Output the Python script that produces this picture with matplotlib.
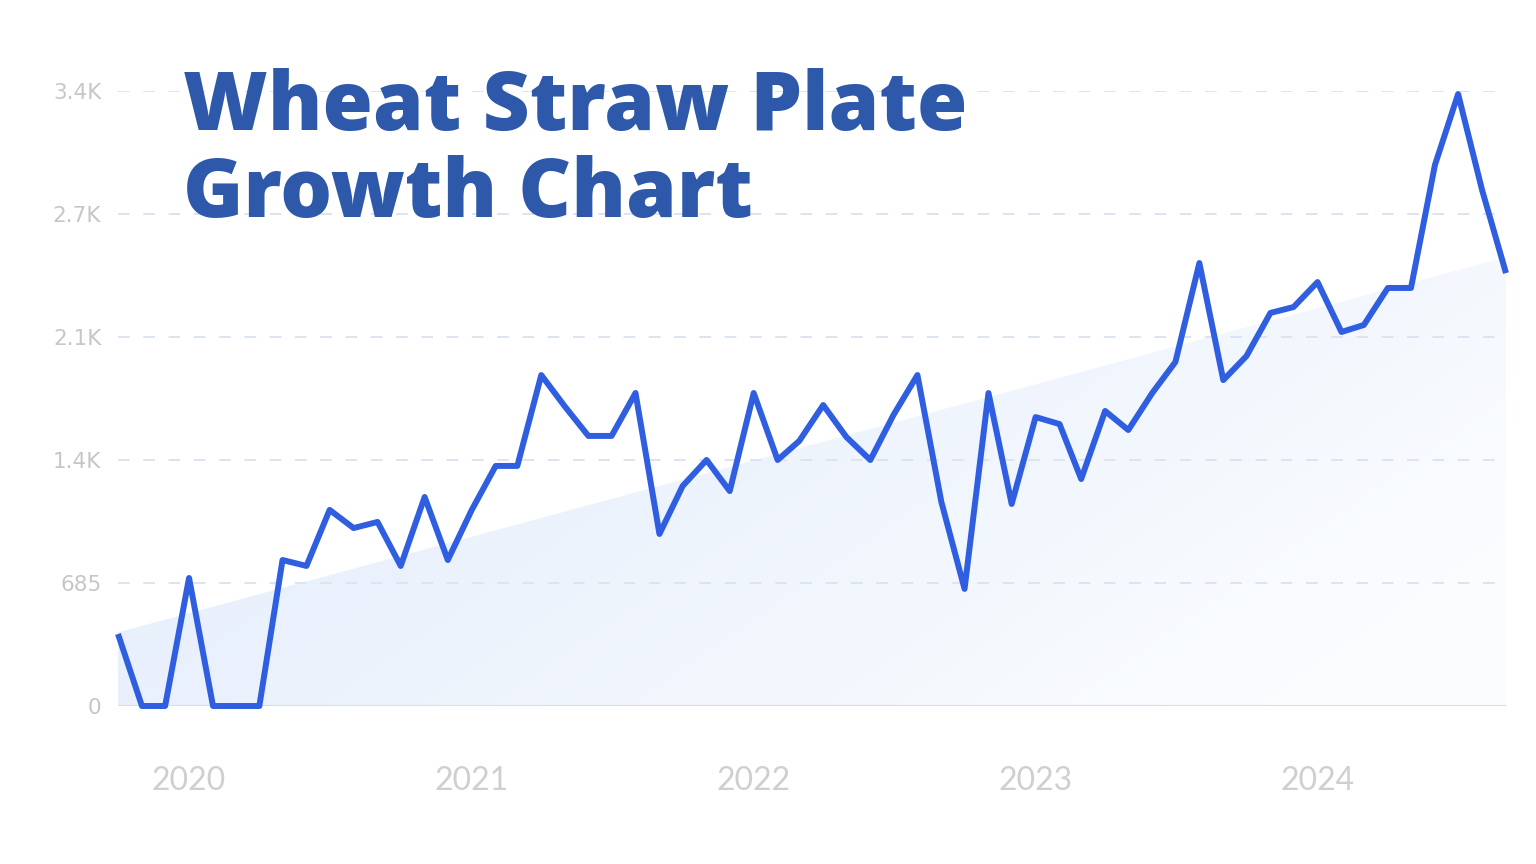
import numpy as np
import pandas as pd
import matplotlib
matplotlib.use("Agg")
import matplotlib.pyplot as plt
from matplotlib.patches import Polygon

# ---- data ----
start_month = "2019-10-01"
values = [401, 0, 0, 713, 0, 0, 0, 813, 780, 1092,
          991, 1025, 780, 1164, 813, 1092, 1337, 1337, 1843, 1671,
          1504, 1504, 1743, 958, 1225, 1370, 1197, 1743, 1370, 1476,
          1676, 1498, 1370, 1621, 1843, 1136, 652, 1743, 1125, 1609,
          1570, 1264, 1643, 1537, 1743, 1916, 2467, 1815, 1949, 2189,
          2222, 2361, 2083, 2122, 2328, 2328, 3013, 3408, 2874, 2411]
trend_ends = [410, 2500]
y_ticks = [0, 685, 1370, 2055, 2740, 3425]
y_tick_labels = ["0", "685", "1.4K", "2.1K", "2.7K", "3.4K"]
x_tick_years = ["2020", "2021", "2022", "2023", "2024"]
title_lines = ["Wheat Straw Plate", "Growth Chart"]

dates = pd.date_range(start_month, periods=len(values), freq="MS")
xnum = matplotlib.dates.date2num(dates)

W, H = 1536, 864
fig = plt.figure(figsize=(W / 100, H / 100), dpi=100)
ax_l, ax_r, ax_b, ax_t = 118 / W, 1506 / W, 1 - 706 / H, 1 - 91 / H
ax = fig.add_axes([ax_l, ax_b, ax_r - ax_l, ax_t - ax_b])
ax.set_xlim(xnum[0], xnum[-1])
ax.set_ylim(0, y_ticks[-1])
for s in ax.spines.values():
    s.set_visible(False)

# gridlines
for yt in y_ticks[1:]:
    ax.plot([xnum[0], xnum[-1] - 5], [yt, yt], color="#dde4ef", lw=1.4,
            dashes=(6, 7), zorder=1)
ax.axhline(0, color="#d3def5", lw=1.5, zorder=2)

# gradient fill under trend line
x0, x1 = xnum[0], xnum[-1]
poly = Polygon([[x0, 0], [x0, trend_ends[0]], [x1, trend_ends[1]], [x1, 0]],
               closed=True, facecolor="none", edgecolor="none")
ax.add_patch(poly)
nx, ny = 300, 200
gx = np.linspace(0, 1, nx)[None, :]
gy = np.linspace(0, 1, ny)[:, None]  # 0 at top row
t = np.clip(0.75 * gx + 0.35 * gy, 0, 1)
base = np.array([0.875, 0.918, 0.985])
alpha = 0.85 * (1 - t) + 0.12
img = np.zeros((ny, nx, 4))
img[..., :3] = base
img[..., 3] = alpha
im = ax.imshow(img, extent=[x0, x1, 0, trend_ends[1]], aspect="auto",
               origin="upper", zorder=0.5, interpolation="bilinear")
im.set_clip_path(poly)

# main line
ax.plot(xnum, values, color="#2f5fe0", lw=4.3, solid_joinstyle="round",
        solid_capstyle="butt", zorder=5, clip_on=False)

# ticks
ax.set_yticks(y_ticks)
ax.set_yticklabels(y_tick_labels)
ax.tick_params(axis="y", length=0, pad=12, labelsize=15.5, labelcolor="#c6c6ca")
for lbl in ax.get_yticklabels():
    lbl.set_fontfamily("DejaVu Sans")
xt = matplotlib.dates.date2num(pd.to_datetime([f"{y}-01-01" for y in x_tick_years]))
ax.set_xticks(xt)
ax.set_xticklabels(x_tick_years)
ax.tick_params(axis="x", length=0, pad=43, labelsize=23, labelcolor="#cfcfd3")
for lbl in ax.get_xticklabels():
    lbl.set_fontfamily("Lato")

# title
for i, line in enumerate(title_lines):
    fig.text(183 / W, 1 - (130 + 87 * i) / H, line, fontsize=58.8,
             fontweight="heavy", family="Open Sans", color="#2e59ab",
             ha="left", va="baseline")
fig.savefig("out.png", dpi=100, facecolor="white")
